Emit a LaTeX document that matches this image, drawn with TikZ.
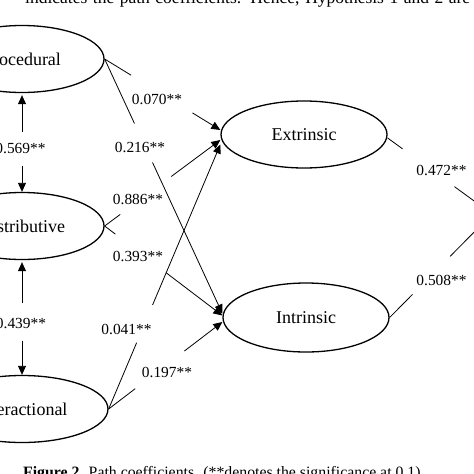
\documentclass[tikz,border=0pt]{standalone}
\usepackage{fontspec}
\setmainfont{Liberation Serif}
\usetikzlibrary{shapes.geometric,arrows.meta,calc}
\begin{document}
\begin{tikzpicture}[x=1pt,y=-1pt,
  latent/.style={ellipse,draw,line width=1.3pt,minimum width=164pt,minimum height=67pt,inner sep=0pt,font=\fontsize{18}{20}\selectfont},
  coef/.style={font=\fontsize{15.4}{17}\selectfont,inner sep=0pt},
  link/.style={line width=0.8pt},
  arr/.style={link,-{Triangle[length=9pt,width=8pt]}},
  txt/.style={anchor=base west,inner sep=0pt}
]
\useasboundingbox (0,0) rectangle (474,474);
\clip (0,0) rectangle (474,474);

% latent variables
\node[latent] (proc) at (22,59) {Procedural};
\node[latent] (dist) at (22,226) {Distributive};
\node[latent,minimum width=172pt] (inter) at (22,409) {Interactional};
\node[latent,minimum width=166pt] (ext) at (304,134.5) {Extrinsic};
\node[latent,minimum width=166pt,minimum height=69pt] (intr) at (306,317.5) {Intrinsic};
\coordinate (out) at (492,214);

% end points of the paths
\coordinate (s1) at (proc.east);  \coordinate (t1) at ([yshift=4.5pt]ext.west);
\coordinate (s2) at (proc.east);  \coordinate (t2) at ([yshift=4pt]intr.west);
\coordinate (s3) at (dist.east);  \coordinate (t3) at ([yshift=-5.5pt]ext.west);
\coordinate (s4) at (dist.east);  \coordinate (t4) at ([yshift=2pt]intr.west);
\coordinate (s5) at (inter.east); \coordinate (t5) at ([yshift=-10pt]ext.west);
\coordinate (s6) at (inter.east); \coordinate (t6) at ([yshift=-4.5pt]intr.west);
\coordinate (s7) at ([yshift=-3.5pt]ext.east);
\coordinate (s8) at (intr.east);

% paths, broken where the coefficient sits
\draw[link] (s1) -- ($(s1)!31pt!(t1)$);   \draw[arr] ($(s1)!103pt!(t1)$) -- (t1);
\draw[link] (s2) -- ($(s2)!71pt!(t2)$);   \draw[arr] ($(s2)!114pt!(t2)$) -- (t2);
\draw[link] (s3) -- ($(s3)!19.4pt!(t3)$); \draw[arr] ($(s3)!83pt!(t3)$) -- (t3);
\draw[link] (s4) -- ($(s4)!13.5pt!(t4)$); \draw[arr] ($(s4)!77pt!(t4)$) -- (t4);
\draw[link] (s5) -- ($(s5)!72pt!(t5)$);   \draw[arr] ($(s5)!113pt!(t5)$) -- (t5);
\draw[link] (s6) -- ($(s6)!33.4pt!(t6)$); \draw[arr] ($(s6)!95.4pt!(t6)$) -- (t6);
\draw[link] (s7) -- ($(s7)!18.5pt!(out)$); \draw[arr] ($(s7)!82.6pt!(out)$) -- (out);
\draw[link] (s8) -- ($(s8)!32.5pt!(out)$); \draw[arr] ($(s8)!86pt!(out)$) -- (out);

% correlations
\draw[arr,shorten >=2pt] ($(proc.south)!38.5pt!(dist.north)$) -- (proc.south);
\draw[arr] ($(proc.south)!72.5pt!(dist.north)$) -- (dist.north);
\draw[arr,shorten >=2pt] ($(dist.south)!42.5pt!(inter.north)$) -- (dist.south);
\draw[arr] ($(dist.south)!80.5pt!(inter.north)$) -- (inter.north);

% coefficients
\node[coef] (c1) at (157,99) {0.070**};
\node[coef] (c2) at (140,147) {0.216**};
\node[coef] (c3) at (138,199) {0.886**};
\node[coef] (c4) at (138,256) {0.393**};
\node[coef] (c5) at (126.5,329) {0.041**};
\node[coef] (c6) at (167,372) {0.197**};
\node[coef] (c7) at (441.5,170) {0.472**};
\node[coef] (c8) at (441.5,280) {0.508**};
\node[coef] (r1) at (20.5,148) {0.569**};
\node[coef] (r2) at (21,323) {0.439**};

% surrounding text
\node[txt,font=\fontsize{17.5}{20}\selectfont] (toptext) at (25,3.5) {\makebox[445pt][s]{indicates the path coefficients. Hence, Hypothesis 1 and 2 are}};
\node[txt,font=\fontsize{15.8}{18}\selectfont] (caption) at (23,477) {\textbf{Figure 2.} Path coefficients. (**denotes the significance at 0.1)};
\end{tikzpicture}
\end{document}
